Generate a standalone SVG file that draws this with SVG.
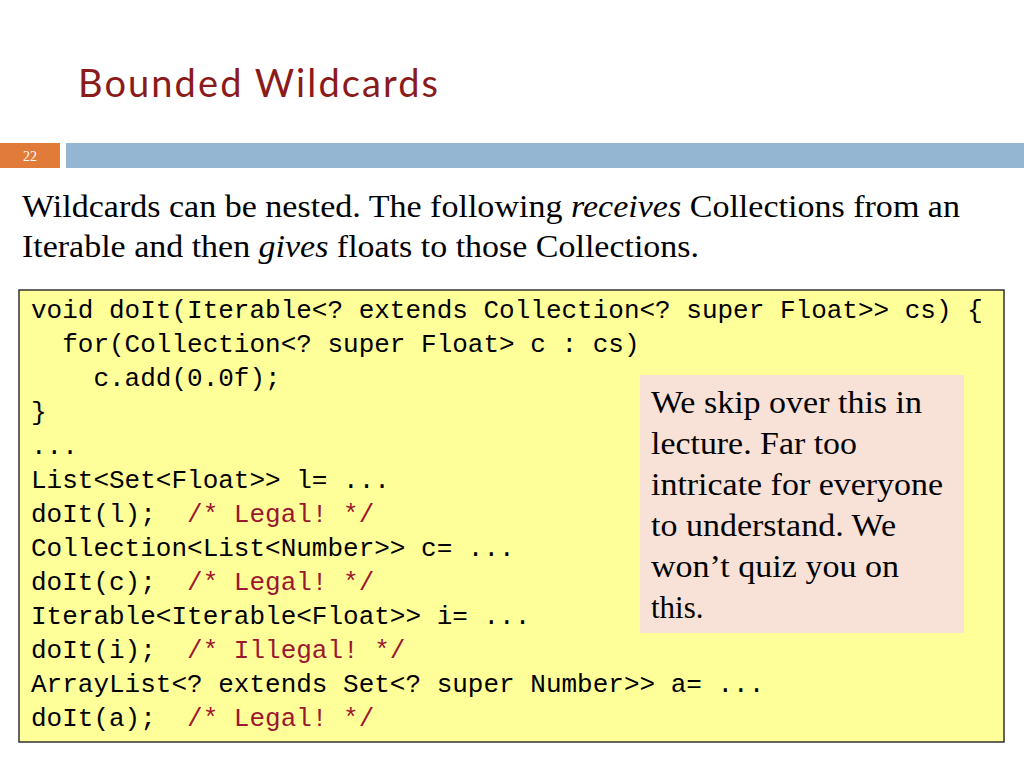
<svg xmlns="http://www.w3.org/2000/svg" width="1024" height="768" viewBox="0 0 1024 768">
<style>
.code{font-family:"Liberation Mono",monospace;font-size:26px;fill:#000;white-space:pre}
.cm{fill:#9C1630}
.serif{font-family:"Liberation Serif",serif;font-size:31px;fill:#000}
</style>
<rect width="1024" height="768" fill="#fff"/>
<g id="title"><text x="78" y="97" font-family="Lato,'Open Sans',sans-serif" font-size="38" fill="#8B1A1A" textLength="360" lengthAdjust="spacing">Bounded Wildcards</text></g>
<g id="header">
<rect x="0" y="143" width="60" height="25" fill="#E07B39"/>
<text x="30" y="161" text-anchor="middle" font-family="Liberation Serif,serif" font-size="14" fill="#fff">22</text>
<rect x="66" y="143" width="958" height="25" fill="#94B6D2"/>
</g>
<g id="intro">
<text class="serif" x="22" y="217" textLength="938" lengthAdjust="spacingAndGlyphs">Wildcards can be nested. The following <tspan font-style="italic">receives</tspan> Collections from an</text>
<text class="serif" x="22" y="257" textLength="677" lengthAdjust="spacingAndGlyphs">Iterable and then <tspan font-style="italic">gives</tspan> floats to those Collections.</text>
</g>
<g id="code">
<rect x="19" y="290" width="985" height="452" fill="#FFFF99" stroke="#333" stroke-width="1.5"/>
<text class="code" x="31" y="318">void doIt(Iterable&lt;? extends Collection&lt;? super Float&gt;&gt; cs) {</text>
<text class="code" x="31" y="352">  for(Collection&lt;? super Float&gt; c : cs)</text>
<text class="code" x="31" y="386">    c.add(0.0f);</text>
<text class="code" x="31" y="420">}</text>
<text class="code" x="31" y="454">...</text>
<text class="code" x="31" y="488">List&lt;Set&lt;Float&gt;&gt; l= ...</text>
<text class="code" x="31" y="522">doIt(l);  <tspan class="cm">/* Legal! */</tspan></text>
<text class="code" x="31" y="556">Collection&lt;List&lt;Number&gt;&gt; c= ...</text>
<text class="code" x="31" y="590">doIt(c);  <tspan class="cm">/* Legal! */</tspan></text>
<text class="code" x="31" y="624">Iterable&lt;Iterable&lt;Float&gt;&gt; i= ...</text>
<text class="code" x="31" y="658">doIt(i);  <tspan class="cm">/* Illegal! */</tspan></text>
<text class="code" x="31" y="692">ArrayList&lt;? extends Set&lt;? super Number&gt;&gt; a= ...</text>
<text class="code" x="31" y="726">doIt(a);  <tspan class="cm">/* Legal! */</tspan></text>
</g>
<g id="note">
<rect x="640" y="375" width="324" height="258" fill="#F8E2D8"/>
<text class="serif" x="651" y="413" textLength="271" lengthAdjust="spacingAndGlyphs">We skip over this in</text>
<text class="serif" x="651" y="454" textLength="206" lengthAdjust="spacingAndGlyphs">lecture. Far too</text>
<text class="serif" x="651" y="495" textLength="292" lengthAdjust="spacingAndGlyphs">intricate for everyone</text>
<text class="serif" x="651" y="536" textLength="245" lengthAdjust="spacingAndGlyphs">to understand. We</text>
<text class="serif" x="651" y="577" textLength="248" lengthAdjust="spacingAndGlyphs">won’t quiz you on</text>
<text class="serif" x="651" y="618">this.</text>
</g>
</svg>
